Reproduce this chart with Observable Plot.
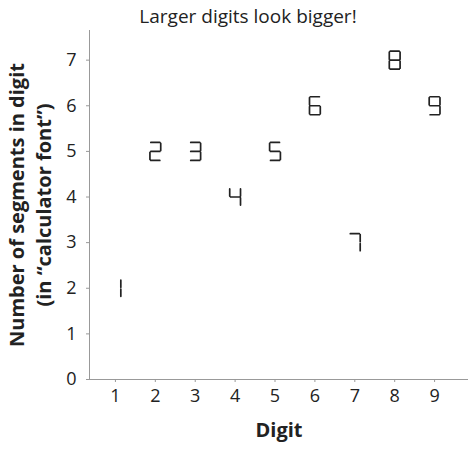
<!DOCTYPE html>
<html>
<head>
<meta charset="utf-8">
<script src="https://cdn.jsdelivr.net/npm/d3@7"></script>
<script src="https://cdn.jsdelivr.net/npm/@observablehq/plot@0.6"></script>
<style>
  html, body { margin: 0; padding: 0; background: white; }
</style>
</head>
<body>
<div id="chart"></div>
<script>
// Data
const digits = [1, 2, 3, 4, 5, 6, 7, 8, 9];
const segmentCounts = [2, 5, 5, 4, 5, 6, 3, 7, 6];
const segmentCodes = ["bc", "abged", "abgcd", "fgbc", "afgcd", "afgedc", "abc", "abcdefg", "abcdfg"];
const yTicks = [0, 1, 2, 3, 4, 5, 6, 7];
const xDomain = [0.35, 9.85];
const yDomain = [0, 7.65];
const title = "Larger digits look bigger!";
const xLabel = "Digit";
const yLabel = "Number of segments in digit\n(in \u201ccalculator font\u201d)";

const data = digits.map((d, i) => ({digit: d, segments: segmentCounts[i], code: segmentCodes[i]}));

// Seven-segment custom symbol
function sevenSeg(code) {
  return {
    draw(ctx, size) {
      const h = Math.sqrt(size / Math.PI);
      const w = h * 0.6, g = h * 0.1;
      const segs = {
        a: [[-w + g, -h], [w - g, -h]],
        b: [[w, -h + g], [w, -g]],
        c: [[w, g], [w, h - g]],
        d: [[-w + g, h], [w - g, h]],
        e: [[-w, g], [-w, h - g]],
        f: [[-w, -h + g], [-w, -g]],
        g: [[-w + g, 0], [w - g, 0]]
      };
      for (const s of code) {
        const [[x0, y0], [x1, y1]] = segs[s];
        ctx.moveTo(x0, y0);
        ctx.lineTo(x1, y1);
      }
    }
  };
}

const axisGray = "#999";
const textColor = "#222";
const font = "'Open Sans', sans-serif";

const chart = Plot.plot({
  width: 474,
  height: 449,
  marginLeft: 89,
  marginRight: 6,
  marginTop: 30,
  marginBottom: 70,
  style: {fontFamily: font, fontSize: "18px", color: textColor, background: "white"},
  x: {domain: xDomain, label: null},
  y: {domain: yDomain, label: null},
  marks: [
    Plot.ruleX([xDomain[0]], {stroke: axisGray, strokeWidth: 1}),
    Plot.ruleY([yDomain[0]], {stroke: axisGray, strokeWidth: 1}),
    Plot.axisX({ticks: digits, tickSize: 3, tickPadding: 7, stroke: axisGray, fill: textColor, fontSize: 18, label: null, tickFormat: d => String(d)}),
    Plot.axisY({ticks: yTicks, tickSize: 3, tickPadding: 10, stroke: axisGray, fill: textColor, fontSize: 18, label: null, tickFormat: d => String(d)}),
    ...data.map(d => Plot.dot([d], {
      x: "digit", y: "segments",
      symbol: sevenSeg(d.code),
      r: 9, fill: "none", stroke: "#222", strokeWidth: 1.7, strokeLinecap: "round"
    })),
    Plot.text([title], {frameAnchor: "top", dx: -31, dy: -14, lineAnchor: "middle", fontSize: 19, fill: textColor}),
    Plot.text([xLabel], {frameAnchor: "bottom", dy: 51, lineAnchor: "middle", fontSize: 20, fontWeight: "bold", fill: textColor}),
    Plot.text([yLabel], {frameAnchor: "left", textAnchor: "middle", dx: -61, rotate: -90, lineAnchor: "middle", lineHeight: 1.35, fontSize: 20, fontWeight: "bold", fill: textColor})
  ]
});

document.getElementById("chart").appendChild(chart);
</script>
</body>
</html>
